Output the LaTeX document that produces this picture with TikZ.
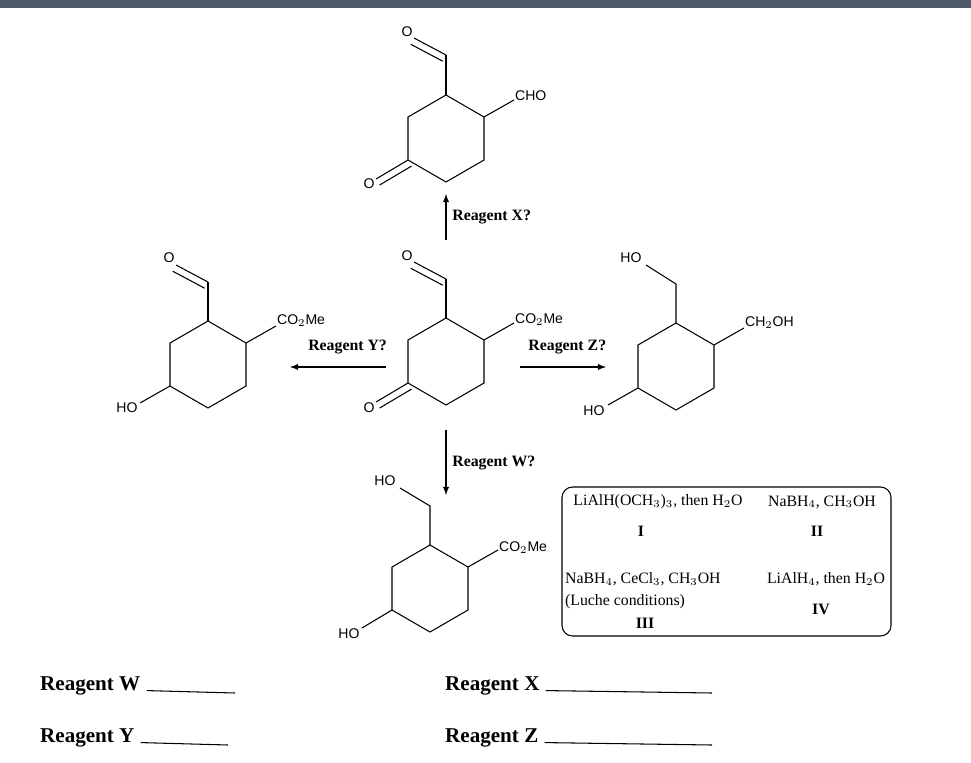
\documentclass[tikz,border=0pt]{standalone}
\usepackage{fontspec}
\setmainfont{Liberation Serif}
\setsansfont{Liberation Sans}
\usetikzlibrary{positioning,calc}
% ring of six atoms, pointy top, centre (#1,#2)
\newcommand{\hexring}[2]{\draw[bnd] (#1,#2-43) -- (#1+38,#2-21) -- (#1+38,#2+22) -- (#1,#2+44) -- (#1-38,#2+22) -- (#1-38,#2-21) -- cycle;}
\newcommand{\dbl}[2]{\draw[bnd] #1 -- #2; \draw[bnd] ($#1!4pt!90:#2$) -- ($#2!4pt!-90:#1$);}
\begin{document}
\begin{tikzpicture}[x=0.02cm,y=-0.02cm,
  bnd/.style={line width=0.6pt},
  atom/.style={font=\sffamily\footnotesize,inner sep=1pt},
  rgt/.style={font=\bfseries\small},
  ans/.style={font=\bfseries\large,anchor=west},
  opt/.style={font=\small,inner sep=1pt},
  rxn/.style={-latex,line width=0.6pt}]
\useasboundingbox (0,0) rectangle (971,762);
\fill[fill={rgb,255:red,78;green,90;blue,104}] (0,0) rectangle (971,8);
% top product
\hexring{446}{138}
\draw[bnd] (446,95) -- (446,55);
\dbl{(446,55)}{(414,38)}
\node[atom] (o1) at (407,32) {O};
\dbl{(408,160)}{(376,179)}
\node[atom] (o2) at (369,184) {O};
\draw[bnd] (484,117) -- (514,100);
\node[atom,anchor=west] (cho) at (513,96) {CHO};
% starting material
\hexring{446}{361}
\draw[bnd] (446,318) -- (446,279);
\dbl{(446,279)}{(414,262)}
\node[atom] (o3) at (407,256) {O};
\dbl{(408,383)}{(376,402)}
\node[atom] (o4) at (369,408) {O};
\draw[bnd] (484,340) -- (514,323);
\node[atom,anchor=west] (e1) at (513,320) {CO$_2$Me};
% left product
\hexring{208}{364}
\draw[bnd] (208,321) -- (208,282);
\dbl{(208,282)}{(176,265)}
\node[atom] (o5) at (169,258) {O};
\draw[bnd] (246,343) -- (276,326);
\node[atom,anchor=west] (e2) at (275,321) {CO$_2$Me};
\draw[bnd] (170,386) -- (140,403);
\node[atom] (h1) at (127,408) {HO};
% right product
\hexring{676}{366}
\draw[bnd] (676,323) -- (676,284) -- (646,265);
\node[atom] (h2) at (631,258) {HO};
\draw[bnd] (714,345) -- (744,328);
\node[atom,anchor=west] (c1) at (743,323) {CH$_2$OH};
\draw[bnd] (638,388) -- (608,405);
\node[atom] (h3) at (594,411) {HO};
% bottom product
\hexring{430}{588}
\draw[bnd] (430,545) -- (430,506) -- (400,488);
\node[atom] (h4) at (385,481) {HO};
\draw[bnd] (468,567) -- (498,550);
\node[atom,anchor=west] (e3) at (497,548) {CO$_2$Me};
\draw[bnd] (392,610) -- (362,628);
\node[atom] (h5) at (349,634) {HO};
% arrows
\coordinate (sm) at (446,361);
\draw[rxn] (446,240) -- (446,194) node[pos=0.5,right,rgt] {Reagent X?};
\draw[rxn] (386,367) -- (290,367) node[pos=0.4,above=4pt,rgt] {Reagent Y?};
\draw[rxn] (520,367) -- (606,367) node[pos=0.55,above=4pt,rgt] {Reagent Z?};
\draw[rxn] (446,430) -- (446,495) node[pos=0.5,right,rgt] {Reagent W?};
% reagent box
\draw[rounded corners=6pt,line width=0.6pt] (562,487) rectangle (891,636);
\node[opt] (r1) at (658,502) {LiAlH(OCH$_3$)$_3$, then H$_2$O};
\node[opt,font=\bfseries\small] (n1) at (641,531) {I};
\node[opt] (r2) at (822,502) {NaBH$_4$, CH$_3$OH};
\node[opt,font=\bfseries\small] (n2) at (817,531) {II};
\node[opt,anchor=west] (r3) at (563,579) {NaBH$_4$, CeCl$_3$, CH$_3$OH};
\node[opt,anchor=west] (r3b) at (563,602) {(Luche conditions)};
\node[opt,font=\bfseries\small] (n3) at (645,623) {III};
\node[opt] (r4) at (826,579) {LiAlH$_4$, then H$_2$O};
\node[opt,font=\bfseries\small] (n4) at (821,609) {IV};
% answer lines
\node[ans] (aw) at (34,686) {Reagent W};
\draw[bnd] (aw.base east) -- (235,693);
\node[ans] (ax) at (439,686) {Reagent X};
\draw[bnd] (ax.base east) -- (712,693);
\node[ans] (ay) at (34,738) {Reagent Y};
\draw[bnd] (ay.base east) -- (228,745);
\node[ans] (az) at (439,738) {Reagent Z};
\draw[bnd] (az.base east) -- (712,745);
\end{tikzpicture}
\end{document}
